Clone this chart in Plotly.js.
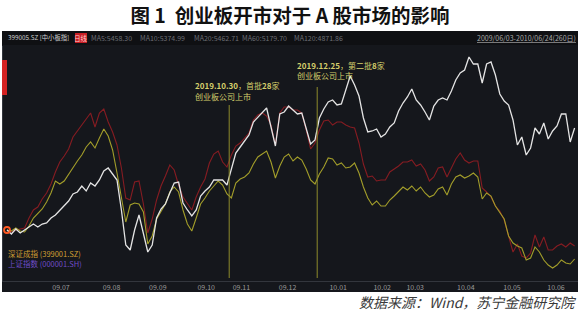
<!DOCTYPE html>
<html>
<head>
<meta charset="utf-8">
<script src="https://cdn.plot.ly/plotly-3.0.1.min.js"></script>
<style>
html,body{margin:0;padding:0;background:#fff;}
#chart{width:580px;height:314px;}
</style>
</head>
<body>
<div id="chart"></div>
<script>
// Relative change (%) from 2009-06-03, sampled every 2 trading days
const sampleStep = 2;
const smeIndex = [0,-2,0.5,-1.5,0,1.5,3,1.5,3,3.5,6,7.5,10,12,14.5,18,19,22,19.5,23.5,22,25,29.5,31,28,25,10,-7.5,-10,0,7.5,-1.5,-11,-7.5,6,10.5,13,18.5,23.5,24,13.5,10,7,10,17,19.5,21.5,25,25,25,22.5,31,38.5,41.5,44.5,47.5,54,56.5,59,61,51.5,42,58,59,62,60,58,58.5,51,43,45,56,60.5,64,65,62.5,63,70,77,72.5,67,56,49,49.5,50.5,46.5,48,51.5,53.5,59.5,63.5,66.5,70.5,65,62.5,59,55,62,65,66,65,69.5,75,78.5,80,86.5,83,83,73.5,83,84,77.5,68,64.5,62.5,55,42.5,46.5,37.5,41,51,48,53.5,45.5,49.5,52,58,58,44,51];
const redSeries = [0,-1,0,0.5,1,6,10,11.5,15.5,18.5,23,29,34,37,40.5,46.5,49.5,52.5,55.5,58.5,51.5,58.5,60.5,54,49,42.5,31,16,15,24,24.5,13,-1.5,5.5,15,22,27,32.5,30,22.5,16.5,13,10,16.5,21.5,25.5,33.5,38,39.5,34,31.5,37.5,42,43.5,46,48.5,55,57.5,58.5,57,52.5,42.5,58.5,61.5,61.5,60,60,58.5,50,40.5,43.5,50,54.5,55,52.5,54,54,52.5,51.5,51,43.5,33,26.5,27,24.5,25,25,29,30.5,32,34,34,35,32,33,30,24.5,26.5,31,31.5,26.5,31,35.5,38.5,35,33.5,34.5,34.5,21,19,16.5,12,9.5,5,-2.5,-11,-7,-13,-14,-11.5,-2.5,-8.5,-3.5,-10,-10,-8,-7,-8.5,-6.5,-8];
const yellowSeries = [0,-0.5,1,-0.5,-1,2,6,8,10.5,14,18.5,24.5,23,24.5,28,31.5,34.5,37.5,41.5,44,41,46,50.5,47,40,28.5,17,4,12.5,13.5,13,9,-7,-3,5.5,9.5,13,19,21.5,19,10,3,-0.5,6,13,16,19.5,22,24.5,22.5,18,16,23.5,25.5,26.5,28.5,33,36.5,38,39.5,34,26,32,36.5,38,34.5,36.5,35,30.5,25,23,28,31.5,36,35.5,32.5,33.5,31,31.5,33.5,28.5,21.5,16,12.5,14.5,12,12,15,17,19,21.5,20,22,19.5,21.5,18.5,16.5,17.5,20.5,21.5,17.5,23,26.5,27.5,26,27,28.5,26.5,15.5,18.5,17,12,8.5,5.5,-3,-6.5,-8,-9,-15,-14,-8.5,-11,-15,-17.5,-19,-17.5,-15,-16.5,-17,-14.5];

const monthStartDays = [20,43,64,86,102,123,146,166,181,204,225,245];
const monthLabels = ['09.07','09.08','09.09','09.10','09.11','09.12','10.01','10.02','10.03','10.04','10.05','10.06'];

const eventDays = [101, 141];
const eventDates = ['2019.10.30', '2019.12.25'];
const eventBatch = ['首批', '第二批'];
const eventCounts = ['28', '8'];
const eventLine2 = '创业板公司上市';

const headerCode = '399005.SZ [中小板指]';
const headerPeriod = '日线';
const headerMA = ['MA5:5458.30','MA10:5374.99','MA20:5462.71','MA60:5179.70','MA120:4871.86'];
const headerRange = '2009/06/03-2010/06/24(260日)';
const legendNames = ['深证成指 (399001.SZ)', '上证指数 (000001.SH)'];

const days = smeIndex.map((_, i) => i * sampleStep);

// ---- layout helpers (pixel -> paper) ----
const W = 580, H = 314, ML = 3, MR = 2, MT = 46, MB = 33;
const PW = W - ML - MR, PH = H - MT - MB;
const px = x => (x - ML) / PW;
const py = y => (H - MB - y) / PH;

const BG = '#15171c';
const FONT = '"Noto Sans CJK SC", "Noto Sans", sans-serif';

const traces = [
  {x: days, y: redSeries, type: 'scatter', mode: 'lines', line: {color: '#861c22', width: 1.1}, hoverinfo: 'skip'},
  {x: days, y: yellowSeries, type: 'scatter', mode: 'lines', line: {color: '#a39e2a', width: 1.1}, hoverinfo: 'skip'},
  {x: days, y: smeIndex, type: 'scatter', mode: 'lines', line: {color: '#e4e4e4', width: 1.3}, hoverinfo: 'skip'},
  {x: [days[0]], y: [smeIndex[0]], type: 'scatter', mode: 'markers',
   marker: {symbol: 'circle-open', size: 6, color: '#ff5a24', line: {width: 1.8, color: '#ff5a24'}}, hoverinfo: 'skip'}
];

const ann = [];
const hdrY = py(38);
ann.push({text: headerCode, x: px(6), y: hdrY, font: {size: 6.3, color: '#d0d0d0'}});
ann.push({text: headerPeriod, x: px(81), y: hdrY, xanchor: 'center', font: {size: 6.5, color: '#ffd0d0'}});
const maX = [89, 138, 192, 240, 292];
headerMA.forEach((t, i) => ann.push({text: t, x: px(maX[i]), y: hdrY, font: {size: 7, color: '#6c6e73'}}));
ann.push({text: '<span style="text-decoration:underline">' + headerRange + '</span>', x: px(578), y: hdrY, xanchor: 'right', font: {size: 7, color: '#a8a8a8'}});

const evTextX = [193, 295];
const evTextY = [[85, 96], [65, 75.5]];
eventDays.forEach((d, i) => {
  ann.push({text: '<b>' + eventDates[i] + '</b>，' + eventBatch[i] + '<b>' + eventCounts[i] + '</b>家', x: px(evTextX[i]), y: py(evTextY[i][0]), font: {size: 8, color: '#d6cf6c'}});
  ann.push({text: eventLine2, x: px(evTextX[i]), y: py(evTextY[i][1]), font: {size: 8, color: '#d6cf6c'}});
});

ann.push({text: legendNames[0], x: px(6), y: py(253), font: {size: 7.5, color: '#cf9f33'}});
ann.push({text: legendNames[1], x: px(6), y: py(263), font: {size: 7.5, color: '#6f4cc8'}});

ann.push({text: '数据来源：Wind，苏宁金融研究院', x: px(578), y: py(302), xanchor: 'right',
  font: {size: 14, color: '#3a3a3a', style: 'italic'}});

ann.forEach(a => {
  a.xref = 'paper'; a.yref = 'paper'; a.showarrow = false;
  if (!a.xanchor) a.xanchor = 'left';
  a.yanchor = 'middle';
  a.font.family = FONT;
});

const lineTop = [105, 87];
const shapes = [
  {type: 'rect', xref: 'paper', yref: 'paper', x0: px(2), x1: px(578), y0: py(292), y1: py(31), fillcolor: BG, line: {width: 0}, layer: 'below'},
  {type: 'rect', xref: 'paper', yref: 'paper', x0: px(2), x1: px(578), y0: py(45), y1: py(31), fillcolor: '#0f1013', line: {width: 0}, layer: 'below'},
  {type: 'rect', xref: 'paper', yref: 'paper', x0: px(75), x1: px(87), y0: py(43), y1: py(33), fillcolor: '#c81e24', line: {width: 0}, layer: 'below'},
  {type: 'rect', xref: 'paper', yref: 'paper', x0: px(2), x1: px(7), y0: py(95), y1: py(60), fillcolor: '#d42222', line: {width: 0}, layer: 'above'}
];
eventDays.forEach((d, i) => {
  shapes.push({type: 'line', xref: 'x', yref: 'paper', x0: d, x1: d, y0: py(278), y1: py(lineTop[i]), line: {color: '#8f8c2c', width: 1}});
});

const layout = {
  width: W, height: H,
  margin: {l: ML, r: MR, t: MT, b: MB, pad: 0},
  paper_bgcolor: '#ffffff',
  plot_bgcolor: BG,
  showlegend: false,
  title: {text: '图 1  创业板开市对于 A 股市场的影响', x: 0.5, xref: 'container', y: 1 - 16/H, yref: 'container', xanchor: 'center', yanchor: 'middle',
    font: {family: FONT, size: 19.5, color: '#111', weight: 700}},
  xaxis: {range: [(3 - 7) / 2.2, (578 - 7) / 2.2], tickmode: 'array', tickvals: monthStartDays, ticktext: monthLabels,
    ticks: '', showgrid: false, zeroline: false, showline: true, linecolor: '#33363d', linewidth: 1,
    tickfont: {family: FONT, size: 7, color: '#9a9a9a'}, ticklabelshift: 10, ticklabelstandoff: 0, fixedrange: true},
  yaxis: {range: [-25.5, 92], showticklabels: false, ticks: '', showgrid: false, zeroline: false,
    showline: true, linecolor: '#33363d', linewidth: 1, fixedrange: true},
  shapes: shapes,
  annotations: ann
};

Plotly.newPlot('chart', traces, layout, {displayModeBar: false, staticPlot: true});
</script>
</body>
</html>
